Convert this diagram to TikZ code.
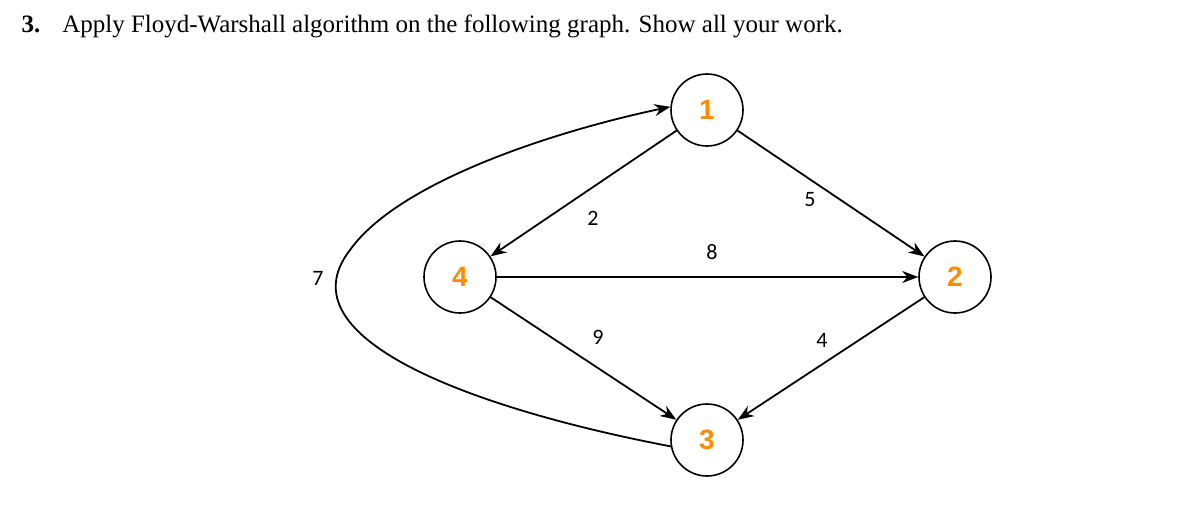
\documentclass[tikz,border=0pt]{standalone}
\usepackage{fontspec}
\setmainfont{Liberation Serif}
\newfontfamily\lab{Carlito}
\newfontfamily\nod{Liberation Sans}
\usetikzlibrary{arrows.meta}
\definecolor{org}{RGB}{255,140,0}
\begin{document}
\begin{tikzpicture}[x=1pt,y=-1pt,
  vtx/.style={circle,draw,line width=1.6pt,minimum size=72pt,inner sep=0pt,font=\nod\bfseries\fontsize{28}{30}\selectfont,text=org},
  edge/.style={line width=1.8pt,-{Stealth[length=16pt,width=12pt]}},
  wt/.style={font=\lab\fontsize{22}{24}\selectfont}]
\useasboundingbox (0,0) rectangle (1204,509);
\node[anchor=west,font=\fontsize{25}{28}\selectfont] (title) at (18,26) {\textbf{3.}\hspace{22pt}Apply Floyd-Warshall algorithm on the following graph. Show all your work.};
\node[vtx] (n1) at (707,110) {1};
\node[vtx] (n2) at (955,277) {2};
\node[vtx] (n3) at (707,440) {3};
\node[vtx] (n4) at (460,277) {4};
\draw[edge] (n1) -- (n2);
\draw[edge] (n1) -- (n4);
\draw[edge] (n4) -- (n2);
\draw[edge] (n4) -- (n3);
\draw[edge] (n2) -- (n3);
\draw[edge] (n3.190) .. controls (480,410) and (280,340) .. (350,250) .. controls (400,180) and (560,130) .. (n1.175);
\node[wt] (w2) at (593,218) {2};
\node[wt] (w5) at (810,200) {5};
\node[wt] (w8) at (712,252) {8};
\node[wt] (w7) at (318,278) {7};
\node[wt] (w9) at (598,337) {9};
\node[wt] (w4) at (822,340) {4};
\end{tikzpicture}
\end{document}
